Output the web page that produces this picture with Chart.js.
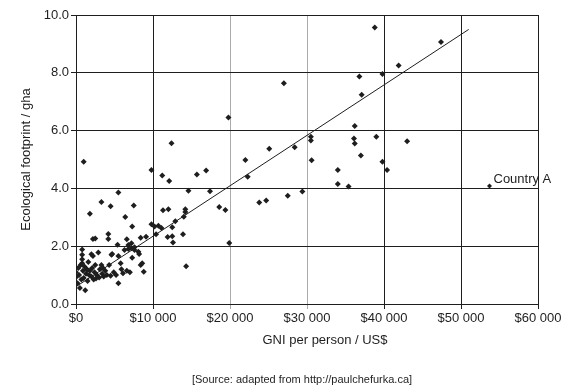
<!DOCTYPE html>
<html><head><meta charset="utf-8">
<script src="https://cdn.jsdelivr.net/npm/chart.js@4/dist/chart.umd.min.js"></script>
<style>html,body{margin:0;padding:0;background:#fff}#wrap{width:565px;height:390px;position:relative}</style>
</head><body><div id="wrap"><canvas id="c" width="565" height="390"></canvas></div>
<script>
// GNI per person (US$) for each country
const gniPerPerson = [
  38800,47400,41900,39800,36800,37100,27000,36200,19800,36100,36200,39000,43000,30500,30500,28400,25100,12400,
  37000,30600,39800,40400,34000,34000,35400,29400,27500,22000,22300,1000,9800,11200,12100,15700,16900,14600,17400,
  23800,24700,18600,19400,11300,12000,14200,14200,14000,12900,9800,10200,10700,11100,10400,12500,13900,11900,12500,
  12600,19900,14300,5500,3300,4500,1800,7500,6400,7300,4200,2200,2500,4200,6600,8400,9100,5400,7200,6800,7600,
  0,100,200,300,400,500,600,700,800,800,800,800,900,1000,1100,1200,1300,1400,1500,1600,1700,1800,2000,2000,2100,
  2200,2300,2400,2500,2700,2900,3000,3100,3300,3400,3600,3800,4000,4300,4500,4600,4700,4900,5200,5500,5500,5800,
  5900,6100,6300,6600,6800,7000,7200,7300,7600,8100,8200,8400,8600,8800,1500,2600,3500
];
// Ecological footprint (gha) for each country
const footprint = [
  9.57,9.07,8.25,7.96,7.87,7.24,7.64,6.16,6.45,5.73,5.55,5.79,5.63,5.79,5.66,5.42,5.37,5.56,
  5.14,4.97,4.92,4.64,4.64,4.15,4.07,3.89,3.75,4.98,4.40,4.92,4.64,4.45,4.26,4.48,4.62,3.92,3.90,
  3.51,3.58,3.36,3.25,3.24,3.28,3.28,3.18,3.02,2.86,2.76,2.68,2.71,2.63,2.41,2.66,2.41,2.32,2.34,
  2.13,2.11,1.31,3.86,3.53,3.38,3.12,3.41,3.01,2.68,2.42,2.25,2.27,2.25,2.24,2.29,2.33,2.05,2.10,2.04,1.96,
  1.10,0.95,0.72,1.25,1.00,0.55,1.35,0.85,1.89,1.70,1.55,1.41,1.15,0.90,1.30,0.48,1.05,1.20,0.80,1.45,1.00,1.15,1.72,0.95,1.25,
  1.66,0.85,1.10,1.35,1.00,1.78,0.92,1.20,1.35,1.05,0.95,1.15,1.00,1.35,0.98,1.70,1.73,1.10,1.00,1.66,0.72,1.41,
  1.20,1.06,1.87,1.15,1.90,1.10,1.93,1.60,1.87,1.81,1.73,1.35,1.41,1.12,1.18,0.88,1.25
];
const countryAGni = [53700];
const countryAFootprint = [4.08];
const countryALabel = 'Country A';
const trendGni = [0, 51000];
const trendFootprint = [0.6, 9.5];
const xTickValues = [0,10000,20000,30000,40000,50000,60000];
const yTickValues = [0,2,4,6,8,10];
const xTitle = 'GNI per person / US$';
const yTitle = 'Ecological footprint / gha';
const sourceText = '[Source: adapted from http://paulchefurka.ca]';

const FONT = "'Liberation Sans', Arial, sans-serif";
const INK = '#1e1e1e';

function fmtMoney(v){
  if (v === 0) return '$0';
  const th = Math.floor(v/1000), rest = String(v%1000).padStart(3,'0');
  return '$' + th + ' ' + rest;
}

const labelsPlugin = {
  id: 'extraText',
  afterDatasetsDraw(chart){
    const {ctx, scales:{x,y}} = chart;
    ctx.save();
    ctx.fillStyle = INK;
    ctx.font = '13px ' + FONT;
    ctx.textAlign = 'left';
    ctx.textBaseline = 'middle';
    ctx.fillText(countryALabel, x.getPixelForValue(countryAGni[0]) + 4, y.getPixelForValue(countryAFootprint[0]) - 7);
    ctx.textAlign = 'center';
    ctx.fillText(xTitle, 325, 340);
    ctx.font = '11px ' + FONT;
    ctx.fillText(sourceText, 302, 380);
    ctx.restore();
  }
};

new Chart(document.getElementById('c'), {
  type: 'scatter',
  data: {
    datasets: [
      {
        label: 'Countries',
        data: gniPerPerson.map((g,i)=>({x:g, y:footprint[i]})),
        pointStyle: 'rectRot', pointRadius: 3, pointBackgroundColor: INK, pointBorderColor: INK, pointBorderWidth: 0
      },
      {
        label: 'Country A',
        data: countryAGni.map((g,i)=>({x:g, y:countryAFootprint[i]})),
        pointStyle: 'rectRot', pointRadius: 2.5, pointBackgroundColor: INK, pointBorderColor: INK, pointBorderWidth: 0
      },
      {
        type: 'line', label: 'Trend',
        data: trendGni.map((g,i)=>({x:g, y:trendFootprint[i]})),
        borderColor: INK, borderWidth: 1, pointRadius: 0, fill: false, showLine: true
      }
    ]
  },
  options: {
    responsive: false, animation: false, devicePixelRatio: 1,
    layout: { padding: { top: 15, right: 27, bottom: 40, left: 0 } },
    plugins: { legend: {display:false}, tooltip: {enabled:false} },
    scales: {
      x: {
        type: 'linear', position: 'bottom', min: 0, max: 60000,
        afterBuildTicks(s){ s.ticks = xTickValues.map(v=>({value:v})); },
        afterFit(s){ s.height = 46; },
        ticks: { callback: v => fmtMoney(v), color: INK, font: {family: FONT, size: 13}, padding: 2, maxRotation: 0, autoSkip: false },
        grid: {
          color: c => (c.tick && (c.tick.value === 20000 || c.tick.value === 30000)) ? '#ababab' : INK,
          lineWidth: 1, tickLength: 5, drawTicks: true
        },
        border: { display: true, color: INK, width: 1 },
        title: { display: false, text: xTitle }
      },
      y: {
        type: 'linear', min: 0, max: 10,
        afterBuildTicks(s){ s.ticks = yTickValues.map(v=>({value:v})); },
        afterFit(s){ s.width = 76; },
        ticks: { callback: v => Number(v).toFixed(1), color: INK, font: {family: FONT, size: 13}, padding: 2 },
        grid: { color: INK, lineWidth: 1, tickLength: 5, drawTicks: true },
        border: { display: true, color: INK, width: 1 },
        title: { display: true, text: yTitle, color: INK, font: {family: FONT, size: 13}, padding: {top:19, bottom:0} }
      }
    }
  },
  plugins: [labelsPlugin]
});
</script>
</body></html>
